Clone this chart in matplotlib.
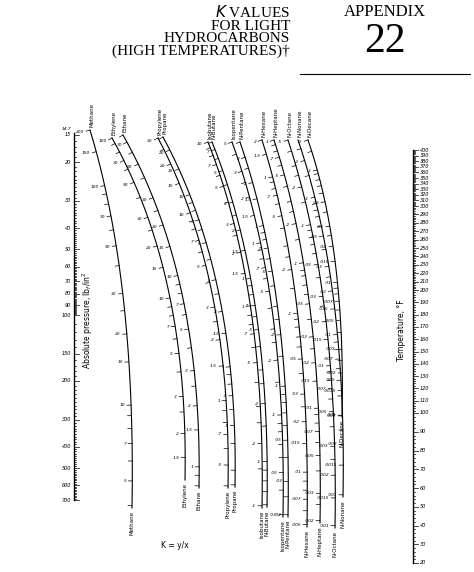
import numpy as np
import matplotlib
matplotlib.use("Agg")
import matplotlib.pyplot as plt

# ---- data ----
components = ["Methane", "Ethylene", "Ethane", "Propylene", "Propane", "Isobutane", "N-Butane",
              "Isopentane", "N-Pentane", "N-Hexane", "N-Heptane", "N-Octane", "N-Nonane", "N-Decane"]
k_top = [200, 100, 80, 30, 25, 10, 8, 5, 4, 2, 1, 0.5, 0.3, 0.2]
k_bottom = [4, 1.2, 0.8, 0.4, 0.25, 0.1, 0.06, 0.03, 0.02, 0.005, 0.002, 0.001, 0.001, 0.001]
pressure_labels = [15, 20, 30, 40, 50, 60, 70, 80, 90, 100, 150, 200, 300, 400, 500, 600, 700]
temp_labels = list(range(20, 401, 10))

# ---- layout (pixel coordinates) ----
curve_top = [(90,130),(112,138),(123,135),(158,138),(163,137),(208,142),(212,142),
             (232,142),(240,142),(262,140),(274,140),(288,140),(298,140),(308,140)]
curve_bot = [(132,508),(185,480),(199,488),(228,488),(235,487),(262,508),(267,507),
             (283,517),(288,517),(307,527),(320,523),(335,528),(343,497),(342,417)]

fig = plt.figure(figsize=(4.74, 5.72), dpi=100)
ax = fig.add_axes([0, 0, 1, 1])
ax.set_xlim(0, 474); ax.set_ylim(572, 0); ax.axis("off")
lw = 0.8

def ytop_p(p):
    return 133 + (np.log(p) - np.log(14.7)) / (np.log(700) - np.log(14.7)) * 367

def y_t(t):
    return np.interp(t, [20, 100, 200, 300, 400], [563, 413, 290, 206, 150])

# pressure axis
px = 74
ax.plot([px, px], [ytop_p(14.7), ytop_p(700)], color="k", lw=1)
pm = np.concatenate([np.arange(15, 100, 1), np.arange(100, 701, 10)])
for p in pm:
    y = ytop_p(p)
    L = 5 if p in pressure_labels else 2.5
    ax.plot([px, px + L], [y, y], color="k", lw=0.5)
for p in pressure_labels:
    ax.text(px - 3, ytop_p(p), str(p), ha="right", va="center", fontsize=3.6, style="italic")
ax.text(px - 3, ytop_p(14.7) - 4, "14.7", ha="right", va="center", fontsize=3.2, style="italic")
ax.text(88, 320, "Absolute pressure, lb$_f$/in$^2$", rotation=90, ha="center", va="center", fontsize=5.5)

# temperature axis
tx = 413
ax.plot([tx, tx], [y_t(20), y_t(400)], color="k", lw=1)
for t in range(20, 401, 2):
    L = 5 if t % 10 == 0 else 2.5
    ax.plot([tx, tx + L], [y_t(t)] * 2, color="k", lw=0.5)
for t in temp_labels:
    ax.text(tx + 7, y_t(t), str(t), ha="left", va="center", fontsize=3.6, style="italic")
ax.text(402, 330, "Temperature, °F", rotation=90, ha="center", va="center", fontsize=5.5)

# component curves
def bez(p0, p1, p2, s):
    s = s[:, None]
    return (1 - s) ** 2 * np.array(p0) + 2 * (1 - s) * s * np.array(p1) + s ** 2 * np.array(p2)

for name, kt, kb, p0, p2 in zip(components, k_top, k_bottom, curve_top, curve_bot):
    ctrl = (p2[0] + 4, p0[1] + 0.4 * (p2[1] - p0[1]))
    s = np.linspace(0, 1, 200)
    pts = bez(p0, ctrl, p2, s)
    ax.plot(pts[:, 0], pts[:, 1], color="k", lw=lw)
    lt, lb = np.log10(kt), np.log10(kb)
    ks = []
    for dec in range(-3, 3):
        for m in [1, 1.5, 2, 2.5, 3, 4, 5, 6, 7, 8, 9]:
            ks.append(m * 10 ** dec)
    for k in ks:
        if not (kb <= k <= kt):
            continue
        f = (lt - np.log10(k)) / (lt - lb)
        i = min(int(f * 199), 198)
        x, y = pts[i]
        dx, dy = pts[i + 1] - pts[i]
        n = np.hypot(dx, dy)
        nx, ny = dy / n, -dx / n
        ax.plot([x, x - 4 * nx], [y, y - 4 * ny], color="k", lw=0.5)
        m = k / 10 ** np.floor(np.log10(k) + 1e-9)
        if m in (1, 2, 3, 5, 7) or m == 1.5:
            lab = f"{k:g}"
            if lab.startswith("0."):
                lab = lab[1:]
            ax.text(x - 6 * nx, y - 6 * ny, lab, ha="right", va="center", fontsize=3.2, style="italic")
    ax.text(p0[0] + 2, p0[1] - 3, name, rotation=90, ha="center", va="bottom", fontsize=4)
    ax.text(p2[0], p2[1] + 3, name, rotation=90, ha="center", va="top", fontsize=4)

ax.text(175, 545, "K = y/x", ha="center", va="center", fontsize=5.5)

# titles
ax.text(290, 4, "$K$ VALUES\nFOR LIGHT\nHYDROCARBONS\n(HIGH TEMPERATURES)†", ha="right", va="top",
        fontsize=11, family="Liberation Serif", linespacing=0.95)
ax.text(385, 4, "APPENDIX", ha="center", va="top", fontsize=12, family="Liberation Serif")
ax.text(385, 22, "22", ha="center", va="top", fontsize=30, family="Liberation Serif")
ax.plot([300, 470], [74, 74], color="k", lw=0.8)

fig.savefig("out.png", dpi=100)
